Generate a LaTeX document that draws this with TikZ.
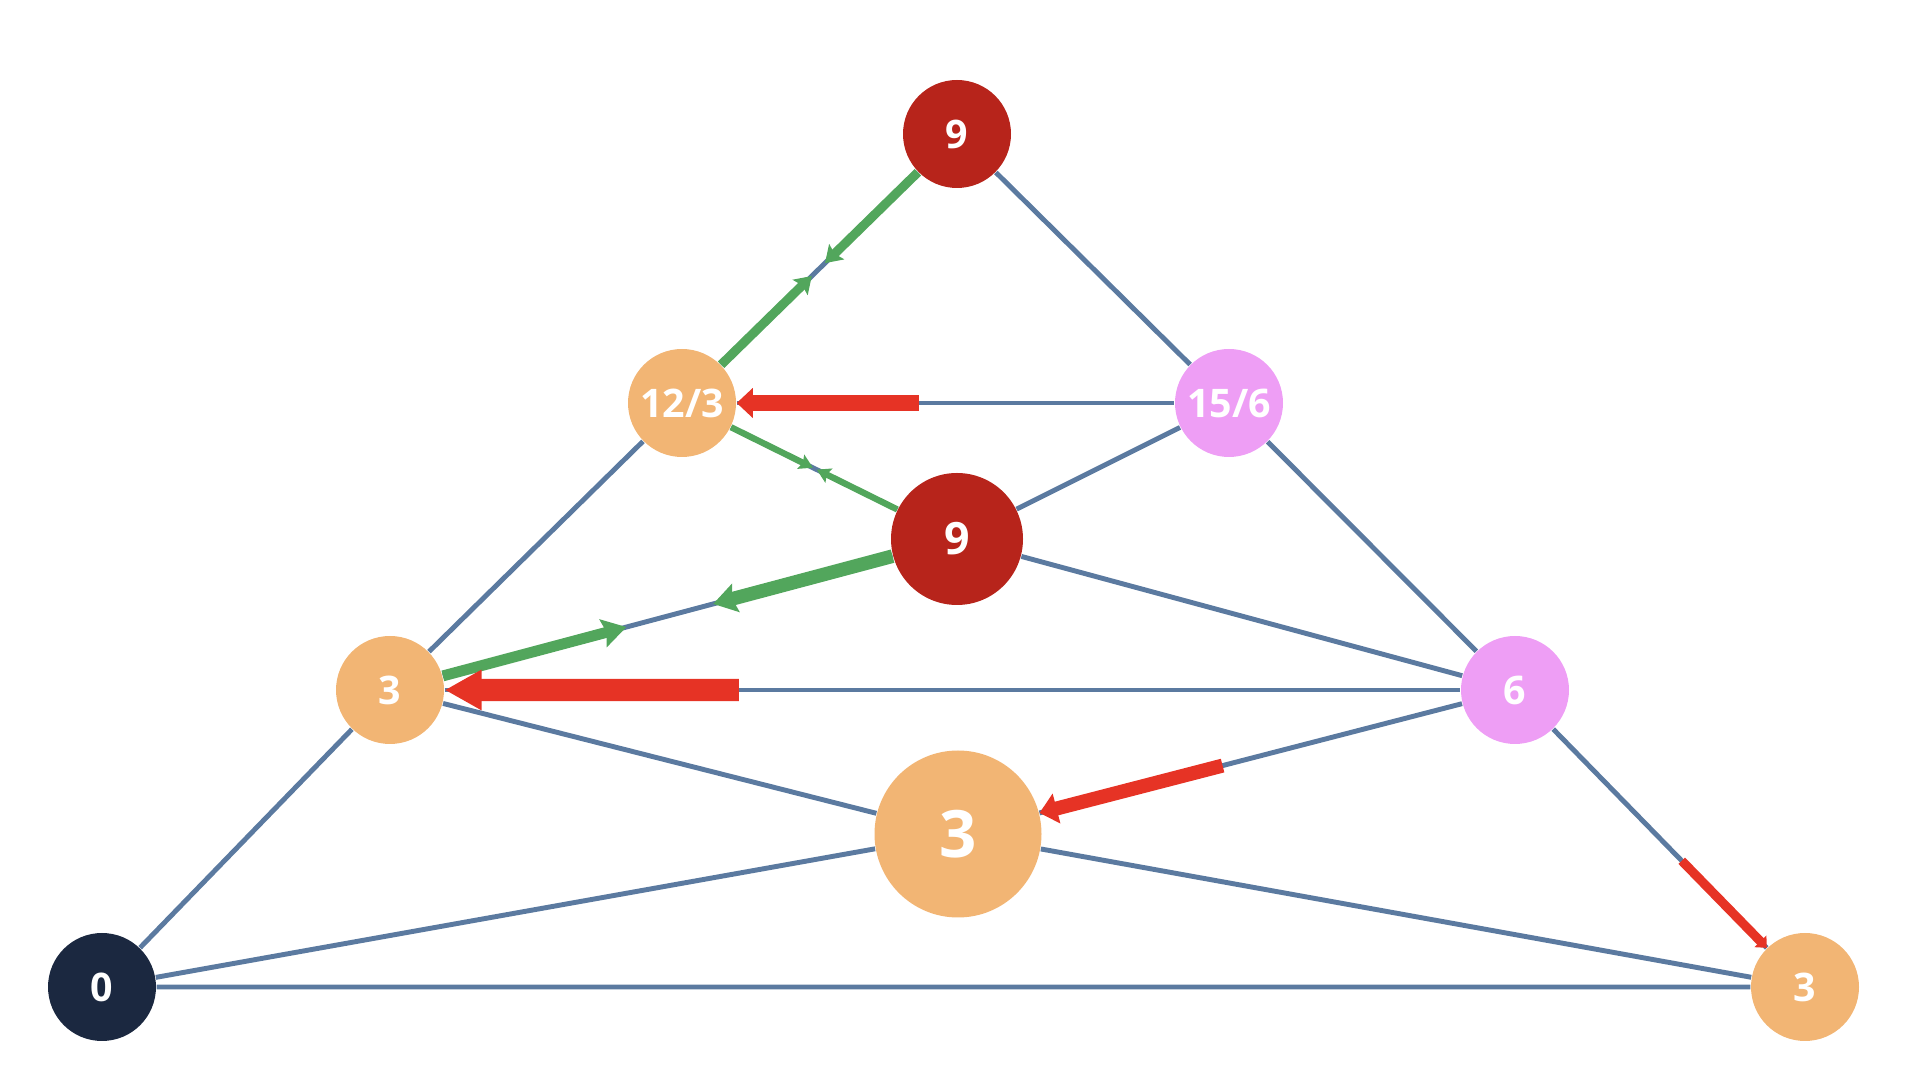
\documentclass[tikz,border=0pt]{standalone}
\usepackage{fontspec}
\setmainfont{Open Sans}
\usetikzlibrary{arrows.meta,calc,positioning,backgrounds}

\definecolor{edgeblue}{RGB}{91,122,160}
\definecolor{flowgreen}{RGB}{82,166,92}
\definecolor{flowred}{RGB}{230,51,37}
\definecolor{peakred}{RGB}{183,36,27}
\definecolor{sandy}{RGB}{242,181,116}
\definecolor{orchid}{RGB}{238,158,245}
\definecolor{navy}{RGB}{27,40,64}

\tikzset{
  vert/.style={circle, inner sep=0pt, minimum size=1.08cm, text=white,
    font=\bfseries\fontsize{11.2}{13}\selectfont},
  edge/.style={draw=edgeblue, line width=1.4pt},
  gflow/.style={draw=flowgreen, line width=#1},
  rflow/.style={draw=flowred, line width=#1},
}

\begin{document}
\begin{tikzpicture}
  \useasboundingbox (0,0) rectangle (19.1,10.88);

  \node[vert, fill=peakred] (top9) at (9.57,9.54) {9};
  \node[vert, fill=sandy] (n12) at (6.82,6.85) {12/3};
  \node[vert, fill=orchid] (n15) at (12.29,6.85) {15/6};
  \node[vert, fill=peakred, minimum size=1.32cm,
    font=\bfseries\fontsize{12.7}{15}\selectfont] (mid9) at (9.57,5.49) {9};
  \node[vert, fill=sandy] (l3) at (3.90,3.98) {3};
  \node[vert, fill=orchid] (n6) at (15.15,3.98) {6};
  \node[vert, fill=sandy, minimum size=1.67cm,
    font=\bfseries\fontsize{18.6}{21}\selectfont] (big3) at (9.58,2.54) {3};
  \node[vert, fill=navy] (n0) at (1.02,1.01) {0};
  \node[vert, fill=sandy] (r3) at (18.05,1.01) {3};

  \begin{scope}[on background layer]
    % network
    \draw[edge] (n0) -- (l3) -- (n12) -- (top9) -- (n15) -- (n6) -- (r3) -- (n0);
    \draw[edge] (n12) -- (n15);
    \draw[edge] (l3) -- (n6);
    \draw[edge] (n12) -- (mid9) -- (n15);
    \draw[edge] (l3) -- (mid9) -- (n6);
    \draw[edge] (l3) -- (big3) -- (n6);
    \draw[edge] (n0) -- (big3) -- (r3);

    % green flows, meeting half way
    \draw[gflow=2.6pt, -{Stealth[length=4.6pt, width=6pt, inset=0.8pt]}]
      (n12) -- ($(n12)!0.472!(top9)$);
    \draw[gflow=2.6pt, -{Stealth[length=4.6pt, width=6pt, inset=0.8pt]}]
      (top9) -- ($(top9)!0.48!(n12)$);
    \draw[gflow=1.8pt, -{Stealth[length=3.8pt, width=4.4pt, inset=0.6pt]}]
      (n12) -- ($(n12)!0.476!(mid9)$);
    \draw[gflow=1.8pt, -{Stealth[length=3.8pt, width=4.4pt, inset=0.6pt]}]
      (mid9) -- ($(mid9)!0.51!(n12)$);
    \draw[gflow=3.1pt, -{Stealth[length=6.8pt, width=8pt, inset=1pt]}]
      (l3) -- ($(l3)!0.417!(mid9)$);
    \draw[gflow=3.9pt, -{Stealth[length=6.6pt, width=8.2pt, inset=1pt]}]
      (mid9) -- ($(mid9)!0.43!(l3)$);

    % red flows
    \draw[rflow=4.5pt, -{Triangle[length=4.6pt, width=8.3pt]}]
      ($(n15)!0.567!(n12)$) -- (n12);
    \draw[rflow=6.3pt, -{Triangle[length=10.5pt, width=10.8pt]}]
      ($(n6)!0.69!(l3)$) -- (l3);
    \draw[rflow=4pt, -{Triangle[length=5pt, width=8.5pt]}]
      ($(n6)!0.525!(big3)$) -- (big3);
    \draw[rflow=2.6pt, -{Triangle[length=2.6pt, width=4.6pt]}]
      ($(n6)!0.575!(r3)$) -- (r3);
  \end{scope}
\end{tikzpicture}
\end{document}
